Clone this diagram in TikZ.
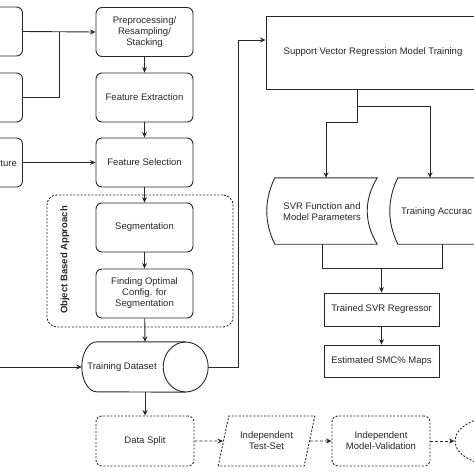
\documentclass[tikz,border=0pt]{standalone}
\usepackage{fontspec}
\setmainfont{Liberation Sans}
\usetikzlibrary{arrows.meta,shapes.geometric,calc}
\definecolor{ink}{RGB}{40,40,40}
\begin{document}
\begin{tikzpicture}[x=1pt,y=-1pt,
  every node/.style={font=\fontsize{9.5}{11}\selectfont, text=ink, align=center},
  box/.style={draw=ink, line width=0.9pt, rounded corners=6pt, minimum width=97pt, minimum height=49pt, inner sep=1pt},
  sq/.style={draw=ink, line width=0.9pt, minimum width=115pt, inner sep=1pt},
  dotpat/.style={dash pattern=on 2pt off 1.6pt},
  dbox/.style={box, dotpat},
  ghost/.style={draw=none, inner sep=0pt},
  ln/.style={draw=ink, line width=0.9pt},
  arr/.style={ln, -{Stealth[length=5.5pt,width=5pt]}},
  darr/.style={arr, dash pattern=on 3pt off 2pt},
  outline/.style={draw=ink, line width=0.9pt}
]
\useasboundingbox (0,0) rectangle (474,474);
\fill[white] (0,0) rectangle (474,474);
\clip (0,0) rectangle (474,474);

% left inputs (cut by the frame)
\node[box] (lb1) at (-26,31.5) {};
\node[box] (lb2) at (-26,97.5) {};
\node[box] (lb3) at (-26,162.5) {};
\node[anchor=east, inner sep=0pt] (lb3t) at (17,163) {ture};

% main column
\node[box] (pre) at (144.5,32) {Preprocessing/\\Resampling/\\Stacking};
\node[box] (fe) at (144.5,97.5) {Feature Extraction};
\node[box] (fs) at (144.5,162.5) {Feature Selection};
\node[dbox, rounded corners=10pt, minimum width=186pt, minimum height=132pt] (oba) at (140,261) {};
\node[rotate=90, font=\bfseries\fontsize{9.5}{11}\selectfont] (obal) at (65,260) {Object Based Approach};
\node[box] (seg) at (144.5,227.5) {Segmentation};
\node[box] (opt) at (144.5,293.5) {Finding Optimal\\Config. for\\Segmentation};

% training dataset (direct access storage)
\node[ghost, minimum width=126pt, minimum height=50pt] (tds) at (145,367) {};
\draw[outline] ([xshift=-22.5pt]tds.north east) -- ([xshift=15pt]tds.north west)
  arc[start angle=90, end angle=270, x radius=15pt, y radius=25pt]
  -- ([xshift=-22.5pt]tds.south east);
\draw[outline] ([xshift=-22.5pt]tds.east) ellipse[x radius=22.5pt, y radius=25pt];
\node (tdsl) at (122,367) {Training Dataset};

% right part
\node[draw=ink, line width=0.9pt, minimum width=214pt, minimum height=73pt] (svr) at (373,52.5) {Support Vector Regression Model Training};

\tikzset{stored/.style={ghost, minimum width=110pt, minimum height=66pt}}
\newcommand{\storedshape}[1]{%
  \draw[outline] ([xshift=8pt]#1.north west) -- (#1.north east)
    .. controls ($(#1.north east)!0.333!(#1.south east)+(-13.3,0)$)
           and ($(#1.north east)!0.667!(#1.south east)+(-13.3,0)$) .. (#1.south east)
    -- ([xshift=8pt]#1.south west)
    .. controls ($(#1.south west)!0.333!(#1.north west)+(-2.7,0)$)
           and ($(#1.south west)!0.667!(#1.north west)+(-2.7,0)$) .. ([xshift=8pt]#1.north west)
    -- cycle;}

\node[stored] (svrf) at (322,211) {};
\storedshape{svrf}
\node (svrft) at (322,212) {SVR Function and\\Model Parameters};

\node[stored] (tacc) at (445,211) {};
\storedshape{tacc}
\node[anchor=west, inner sep=0pt] (tacct) at (401,212) {Training Accurac};

\node[sq, minimum height=33pt] (trained) at (381.5,309.5) {Trained SVR Regressor};
\node[sq, minimum height=32pt] (est) at (381.5,361) {Estimated SMC\% Maps};

% bottom row
\node[dbox, minimum width=98pt, minimum height=50pt] (ds) at (145,441) {Data Split};
\node[trapezium, trapezium left angle=69, trapezium right angle=111, trapezium stretches=true,
  draw=ink, line width=0.9pt, dotpat, minimum width=97pt, minimum height=50pt, inner sep=1pt] (ts) at (266.5,441) {Independent\\Test-Set};
\node[dbox, minimum width=98pt, minimum height=50pt] (mv) at (381,441) {Independent\\Model-Validation};
\node[ellipse, draw=ink, line width=0.9pt, dotpat, minimum width=90pt, minimum height=50pt] (endn) at (500,441) {};

% connectors
\draw[arr] (lb1.east) -- (pre.west);
\draw[ln] (lb2.east) -| ($(lb1.east)!0.5!(pre.west)$);
\draw[arr] (lb3.east) -- (fs.west);
\draw[arr] (pre) -- (fe);
\draw[arr] (fe) -- (fs);
\draw[arr] (fs) -- (seg);
\draw[arr] (seg) -- (opt);
\draw[arr] (opt) -- (tds.north);
\coordinate (tin) at (-10,367);
\draw[arr] (tin) -- (tds.west);
\draw[arr] (tds.east) -- ++(30,0) |- ([yshift=12.5pt]svr.west);
\draw[arr] (tds.south) -- (ds.north);

\draw[arr] ([xshift=-16pt]svr.south) -- ++(0,33) -| ([xshift=4pt]svrf.north);
\draw[arr] ([xshift=-16pt]svr.south) ++(0,17) -| ([xshift=-15pt]tacc.north);
\coordinate (m) at ($(trained.north)+(0,-24)$);
\draw[ln] (svrf.south) |- (m) -| ([xshift=-3pt]tacc.south);
\draw[arr] (m) -- (trained.north);
\draw[arr] (trained) -- (est);

\draw[darr] (ds) -- (ts);
\draw[darr] (ts) -- (mv);
\draw[darr] (mv) -- (endn);
\end{tikzpicture}
\end{document}
